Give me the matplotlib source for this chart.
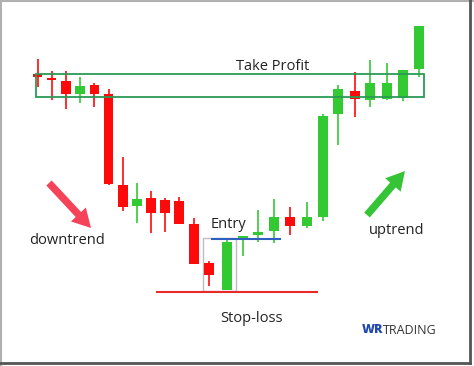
import matplotlib
matplotlib.use("Agg")
import matplotlib.pyplot as plt
from matplotlib.patches import Rectangle

plt.rcParams['font.family'] = ['Open Sans', 'DejaVu Sans']

# candle data (price units)
x_pos = [37.7, 51.7, 66, 80, 94.3, 108.7, 123, 137, 151, 165, 179, 194, 209,
         227, 243, 258, 274, 290, 307, 323, 338, 355, 370, 387, 403, 419]
opens = [113, 111, 109.5, 103, 107.5, 103, 57.5, 47, 51, 50, 49.5, 38, 18.5,
         5, 31, 32.5, 34.5, 41.5, 37, 41.5, 93, 104.5, 100, 100.5, 101, 115.5]
highs = [120.5, 114.5, 114.5, 111.5, 108.5, 105.5, 71.5, 58.5, 54.5, 51, 51.5, 41, 19.5,
         30, 32, 45, 50.5, 46.5, 49, 93, 107.5, 114, 120, 118.5, 115, 137]
lows = [106.5, 100, 95.5, 98.5, 96.5, 57.5, 44.5, 38.5, 33.5, 34, 38, 18, 7,
        5, 22, 29, 28.5, 32.5, 36, 39.5, 77.5, 91.5, 96.5, 100, 99.5, 111.5]
closes = [111.5, 110, 103, 107, 103, 58, 46.5, 50.5, 43.5, 43.5, 38, 18, 12.5,
          29, 32, 34, 41.5, 37, 41.5, 92, 105.5, 100.5, 108.5, 108.5, 115, 137]

take_profit = (101.35, 113)      # low / high of the zone
entry_price = 30.7
stop_loss = 3.85

RED = '#ff0a0a'
GREEN = '#33c933'

fig = plt.figure(figsize=(4.74, 3.66), dpi=100)
ax = fig.add_axes([0, 0, 1, 1])
ax.set_xlim(0, 474)
ax.set_ylim(-33, 150)
ax.axis('off')

for x, o, h, l, c in zip(x_pos, opens, highs, lows, closes):
    col = GREEN if c >= o else RED
    ax.vlines(x, l, h, color=col, linewidth=1.2, zorder=2)
    ax.bar(x, max(abs(c - o), 1.2), bottom=min(o, c), width=9.5, color=col,
           linewidth=0, zorder=3)

# take profit zone
ax.add_patch(Rectangle((36, take_profit[0]), 388, take_profit[1] - take_profit[0],
                       fill=False, edgecolor='#2a9a55', linewidth=1.3, zorder=4))
ax.text(273, 117, 'Take Profit', ha='center', va='center', fontsize=10.5, color='#222222')

# entry area
ax.add_patch(Rectangle((203, 4.5), 33, 26.5, fill=False, edgecolor='#bdbdbd',
                       linewidth=1.0, zorder=1))
ax.hlines(entry_price, 211, 281, color='#2f5fc0', linewidth=1.5, zorder=4)
ax.text(228.5, 38, 'Entry', ha='center', va='center', fontsize=10.5, color='#222222')

# stop loss
ax.hlines(stop_loss, 155.7, 317.7, color='#e82a2a', linewidth=1.5, zorder=4)
ax.text(252, -9, 'Stop-loss', ha='center', va='center', fontsize=10.5, color='#222222')

# trend arrows
arrow_style = 'simple,head_length=0.95,head_width=1.05,tail_width=0.38'
ax.annotate('', xy=(91, 36), xytext=(49, 58.5),
            arrowprops=dict(arrowstyle=arrow_style, mutation_scale=14,
                            color='#f5435a', lw=0, shrinkA=0, shrinkB=0))
ax.text(67.5, 30, 'downtrend', ha='center', va='center', fontsize=10.5, color='#222222')

ax.annotate('', xy=(405, 64.5), xytext=(367, 42.5),
            arrowprops=dict(arrowstyle=arrow_style, mutation_scale=14,
                            color='#35c435', lw=0, shrinkA=0, shrinkB=0))
ax.text(397, 35, 'uptrend', ha='center', va='center', fontsize=10.5, color='#222222')

# logo
ax.text(383, -15, 'WR', ha='right', va='center', fontsize=9, fontweight='heavy',
        color='#2149b0')
ax.text(383, -15, 'TRADING', ha='left', va='center', fontsize=9, color='#333333')

# frame around the picture
ax.plot([0, 1], [0.997, 0.997], transform=ax.transAxes, color='#b0b0b0', lw=1.5)
ax.plot([0.003, 0.003], [0, 1], transform=ax.transAxes, color='#b0b0b0', lw=1.5)
ax.plot([0.9925, 0.9925], [0.008, 1], transform=ax.transAxes, color='#555555', lw=2)
ax.plot([0, 0.9925], [0.008, 0.008], transform=ax.transAxes, color='#555555', lw=2)

fig.savefig('out.png', dpi=100)
